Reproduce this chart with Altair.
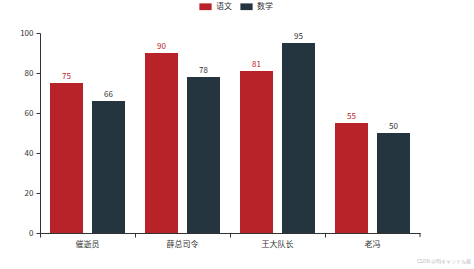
import altair as alt
import pandas as pd

categories = ["催逝员", "薛总司令", "王大队长", "老冯"]
series_names = ["语文", "数学"]
chinese = [75, 90, 81, 55]
math = [66, 78, 95, 50]
colors = ["#b8232a", "#253540"]
y_ticks = [0, 20, 40, 60, 80, 100]

rows = []
for i, c in enumerate(categories):
    rows.append({"cat": c, "series": "语文", "value": chinese[i]})
    rows.append({"cat": c, "series": "数学", "value": math[i]})
df = pd.DataFrame(rows)

FONT = "Noto Sans CJK SC"

x = alt.X("cat:N", sort=categories, title=None,
          scale=alt.Scale(paddingInner=0, paddingOuter=0),
          axis=alt.Axis(labelAngle=0, bandPosition=0, labelFontSize=8, labelColor="#333333",
                        domainColor="#333333", tickColor="#333333", tickSize=4,
                        labelPadding=3, labelFont=FONT))
y = alt.Y("value:Q", title=None,
          scale=alt.Scale(domain=[0, 100]),
          axis=alt.Axis(values=y_ticks, tickCount=6, grid=False, labelFontSize=8,
                        labelOverlap=False, labelFlush=False,
                        labelColor="#333333", domainColor="#333333", tickColor="#333333",
                        tickSize=4, labelPadding=3, labelFont=FONT))
xo = alt.XOffset("series:N", sort=series_names,
                 scale=alt.Scale(paddingInner=0.214, paddingOuter=0.238))
color = alt.Color("series:N", sort=series_names,
                  scale=alt.Scale(domain=series_names, range=colors),
                  legend=alt.Legend(title=None, orient="none", direction="horizontal",
                                    legendX=159, legendY=-33,
                                    symbolType="M-1,-0.55L1,-0.55L1,0.55L-1,0.55Z",
                                    symbolSize=150, symbolStrokeWidth=0, symbolOpacity=1,
                                    labelFontSize=8, labelColor="#333333", labelFont=FONT,
                                    columnPadding=8, labelOffset=4))

bars = alt.Chart(df).mark_bar(opacity=1).encode(
    x=x, xOffset=xo, y=y, color=color,
)

labels = alt.Chart(df).mark_text(dy=-6, fontSize=8, font=FONT).encode(
    x=x, xOffset=xo, y=y,
    text="value:Q",
    color=alt.Color("series:N", sort=series_names,
                    scale=alt.Scale(domain=series_names, range=["#b8232a", "#333333"]),
                    legend=None),
)

endtick = alt.Chart(pd.DataFrame({"a": [0]})).mark_rule(color="#333333").encode(
    x=alt.value(380), y=alt.value(200), y2=alt.value(204))

watermark = alt.Chart(pd.DataFrame({"t": ["CSDN @明キャンドル蔵"]})).mark_text(
    align="right", fontSize=5, color="#bbbbbb", font=FONT).encode(
    x=alt.value(431), y=alt.value(228), text="t:N")

chart = alt.layer(bars, labels, endtick, watermark).resolve_scale(color="independent").properties(
    width=380, height=200,
    autosize=alt.AutoSizeParams(type="none"),
    padding={"left": 40, "top": 33, "right": 54, "bottom": 36},
    background="white",
).configure_view(strokeWidth=0, stroke="transparent")

chart.save("out.html", embed_options={"renderer": "svg", "actions": False})
